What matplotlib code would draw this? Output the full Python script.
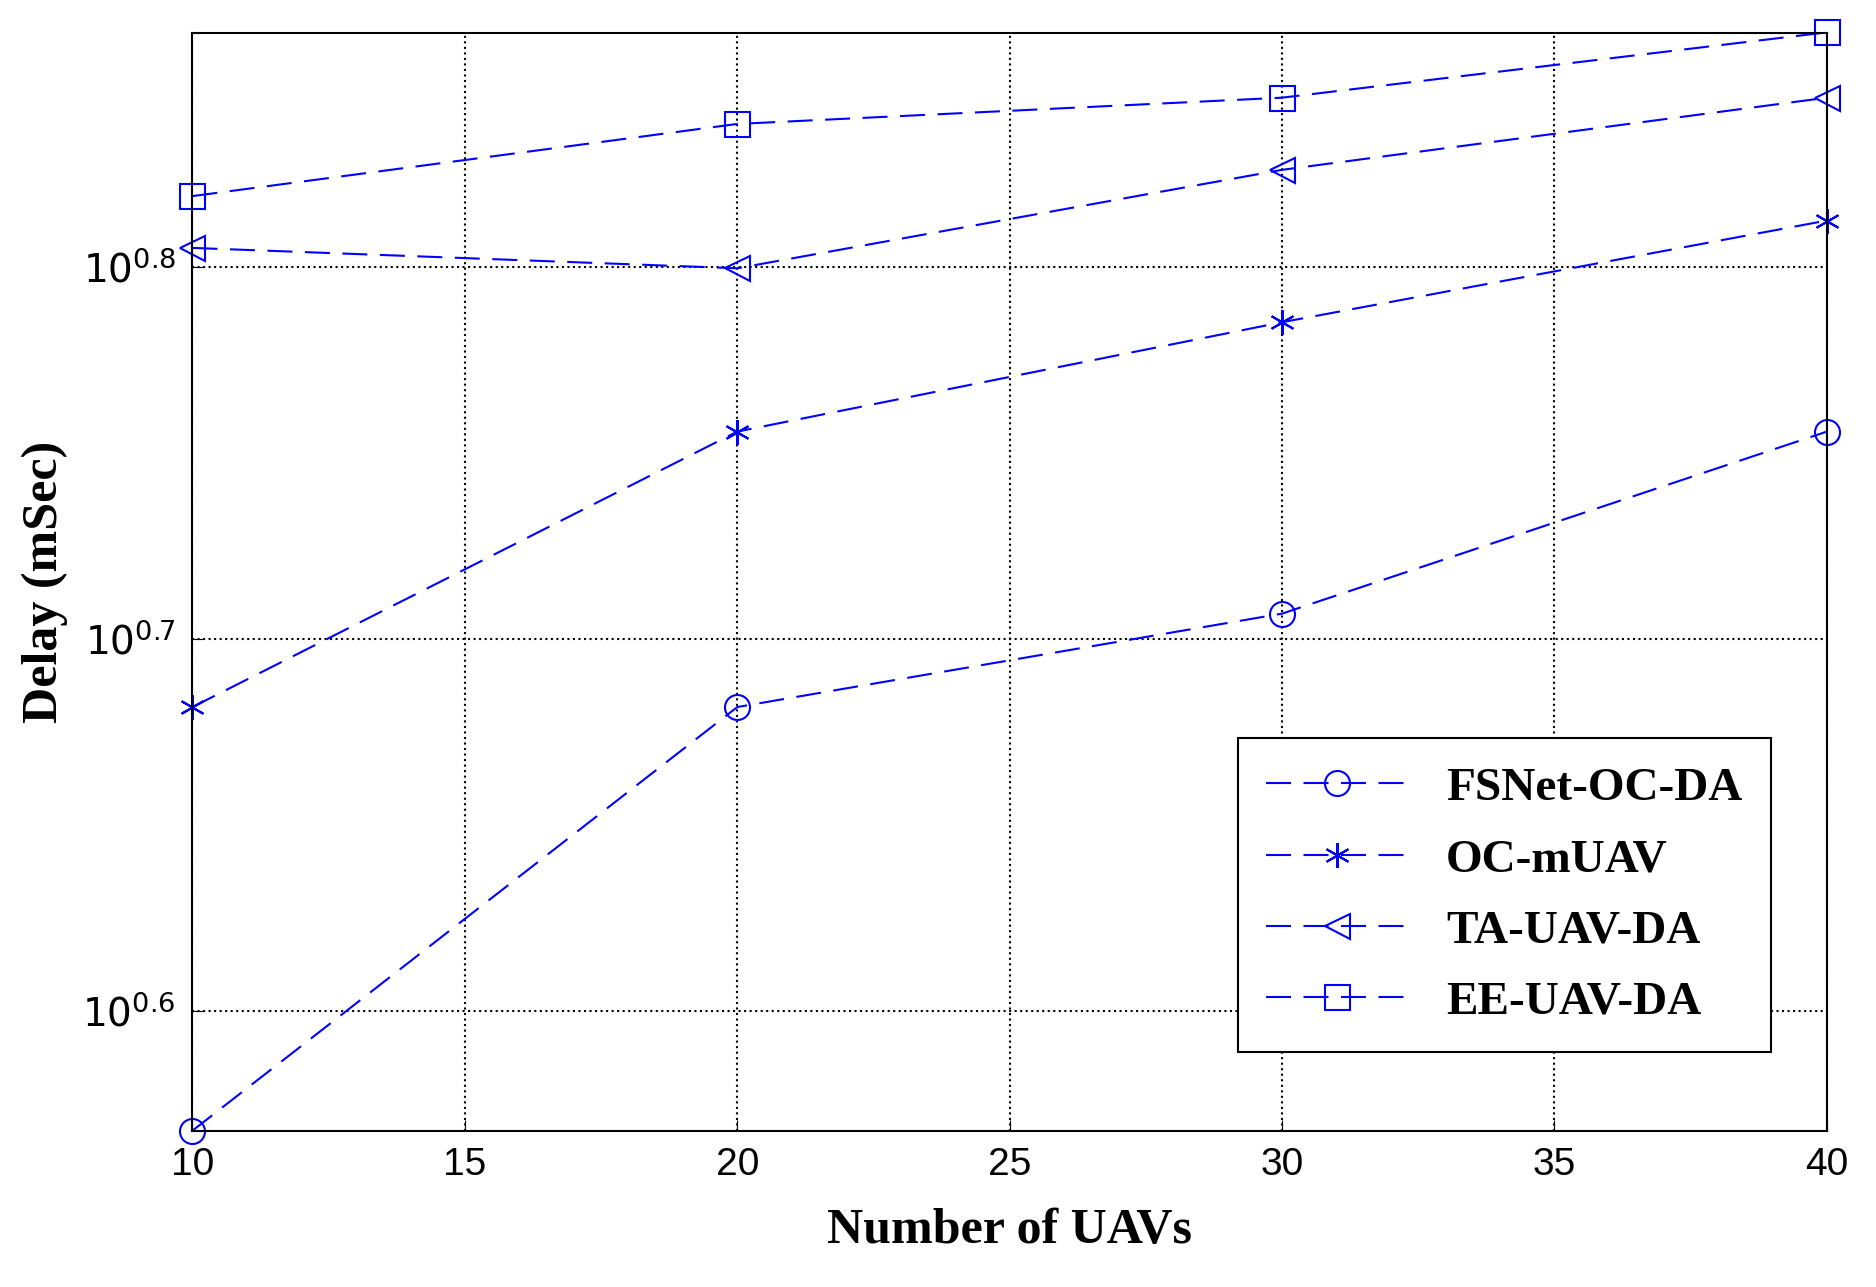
import matplotlib
matplotlib.use("Agg")
import matplotlib.pyplot as plt
from matplotlib.ticker import FixedLocator, NullLocator

uavs = [10, 20, 30, 40]
fsnet = [3.697, 4.805, 5.091, 5.698]
oc_muav = [4.805, 5.698, 6.097, 6.493]
ta_uav = [6.384, 6.304, 6.700, 7.006]
ee_uav = [6.592, 6.893, 7.006, 7.295]
labels = ['FSNet-OC-DA', 'OC-mUAV', 'TA-UAV-DA', 'EE-UAV-DA']
markers = ['o', (6, 2, 0), '<', 's']
yticks = [10**0.6, 10**0.7, 10**0.8]
ytick_labels = ['$10^{0.6}$', '$10^{0.7}$', '$10^{0.8}$']

fig = plt.figure(figsize=(18.76, 12.87), dpi=100)
ax = fig.add_axes([0.1026, 0.1215, 0.8712, 0.8525])

for series, lab, m in zip([fsnet, oc_muav, ta_uav, ee_uav], labels, markers):
    ax.plot(uavs, series, color='blue', linestyle=(0, (12, 6)), linewidth=1.5,
            marker=m, markersize=18, markerfacecolor='none',
            markeredgecolor='blue', markeredgewidth=1.5, label=lab, clip_on=False)

ax.set_yscale('log')
ax.set_xlim(10, 40)
ax.set_ylim(3.697, 7.29)
ax.yaxis.set_major_locator(FixedLocator(yticks))
ax.yaxis.set_minor_locator(NullLocator())
ax.set_yticklabels(ytick_labels)
ax.set_xticks([10, 15, 20, 25, 30, 35, 40])
ax.tick_params(labelsize=28, direction='in', length=8, pad=12)
for lbl in ax.get_xticklabels() + ax.get_yticklabels():
    lbl.set_family('Liberation Sans')
ax.grid(True, color='black', linestyle=':', linewidth=1.5)
for s in ax.spines.values():
    s.set_linewidth(1.5)

ax.set_xlabel('Number of UAVs', fontsize=36, fontweight='bold', family='Liberation Serif', labelpad=18)
ax.set_ylabel('Delay (mSec)', fontsize=36, fontweight='bold', family='Liberation Serif', labelpad=10)

leg = ax.legend(loc='lower right', bbox_to_anchor=(0.98, 0.05), fancybox=False,
                prop={'family': 'Liberation Serif', 'weight': 'bold', 'size': 34},
                handlelength=3, borderpad=0.6, labelspacing=0.6, framealpha=1)
leg.get_frame().set_edgecolor('black')
leg.get_frame().set_linewidth(1.5)

fig.savefig('out.png', dpi=100)
